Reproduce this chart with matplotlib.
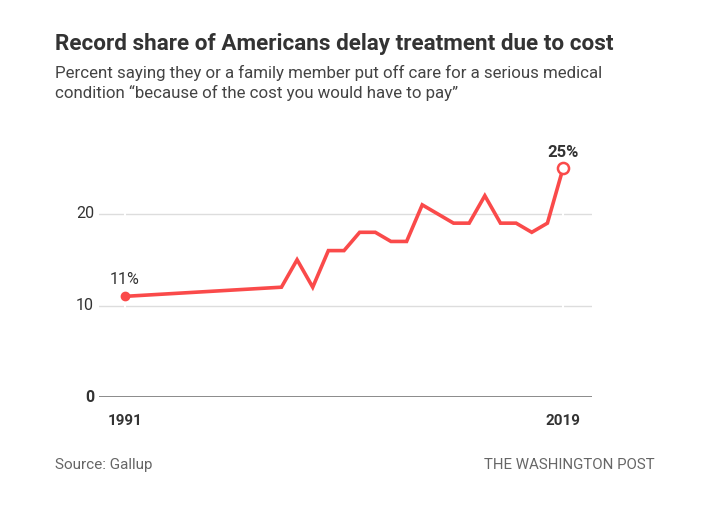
import matplotlib.pyplot as plt

# Gallup series
years = [1991, 2001, 2002, 2003, 2004, 2005, 2006, 2007, 2008, 2009, 2010,
         2011, 2012, 2013, 2014, 2015, 2016, 2017, 2018, 2019]
values = [11, 12, 15, 12, 16, 16, 18, 18, 17, 17, 21,
          20, 19, 19, 22, 19, 19, 18, 19, 25]
y_ticks = [0, 10, 20]
x_ticks = [1991, 2019]

RED = "#fa4a4a"
DARK = "#333333"
GREY = "#666666"
plt.rcParams["font.family"] = ["Roboto", "DejaVu Sans"]

fig = plt.figure(figsize=(7.05, 5.24), dpi=100)
ax = fig.add_axes([99 / 705, 127 / 524, 493 / 705, 27 * 9.15 / 524])
ax.set_xlim(1989.34, 2020.85)
ax.set_ylim(0, 27)

# gridlines
for t in y_ticks:
    if t == 0:
        ax.axhline(t, color="#777777", lw=1.2, zorder=1)
    else:
        ax.axhline(t, color="#dddddd", lw=1, zorder=1)
    ax.text(-0.01, t, str(t), transform=ax.get_yaxis_transform(),
            ha="right", va="center", fontsize=11.5, color=DARK,
            fontweight="bold" if t == 0 else "normal")

# small white breaks in the gridlines at the end years
for yr in x_ticks:
    ax.plot([yr, yr], [0.5, 26], color="white", lw=1.5, zorder=2)

ax.plot(years, values, color=RED, lw=2.6, zorder=3, solid_joinstyle="miter")
ax.plot(years[0], values[0], "o", color=RED, ms=6, zorder=4)
ax.plot(years[-1], values[-1], "o", mfc="white", mec=RED, mew=1.8, ms=8, zorder=4)

ax.annotate(f"{values[0]}%", (years[0], values[0]), xytext=(0, 7),
            textcoords="offset points", ha="center", va="bottom",
            fontsize=11.5, color=DARK)
ax.annotate(f"{values[-1]}%", (years[-1], values[-1]), xytext=(0, 6),
            textcoords="offset points", ha="center", va="bottom",
            fontsize=12, color=DARK, fontweight="bold")

for yr in x_ticks:
    ax.text(yr, -0.07, str(yr), transform=ax.get_xaxis_transform(),
            ha="center", va="top", fontsize=11, fontweight="bold", color=DARK)

ax.axis("off")

fig.text(55 / 705, 1 - 44 / 524, "Record share of Americans delay treatment due to cost",
         fontsize=16.2, fontweight="bold", color=DARK, va="center")
fig.text(55 / 705, 1 - 73 / 524, "Percent saying they or a family member put off care for a serious medical",
         fontsize=12.2, color="#444444", va="center")
fig.text(55 / 705, 1 - 93 / 524, "condition \u201cbecause of the cost you would have to pay\u201d",
         fontsize=12.2, color="#444444", va="center")
fig.text(55 / 705, 1 - 465 / 524, "Source: Gallup", fontsize=11, color=GREY, va="center")
fig.text(655 / 705, 1 - 465 / 524, "THE WASHINGTON POST", fontsize=10.8, color=GREY,
         va="center", ha="right")

fig.savefig("out.png", dpi=100, facecolor="white")
